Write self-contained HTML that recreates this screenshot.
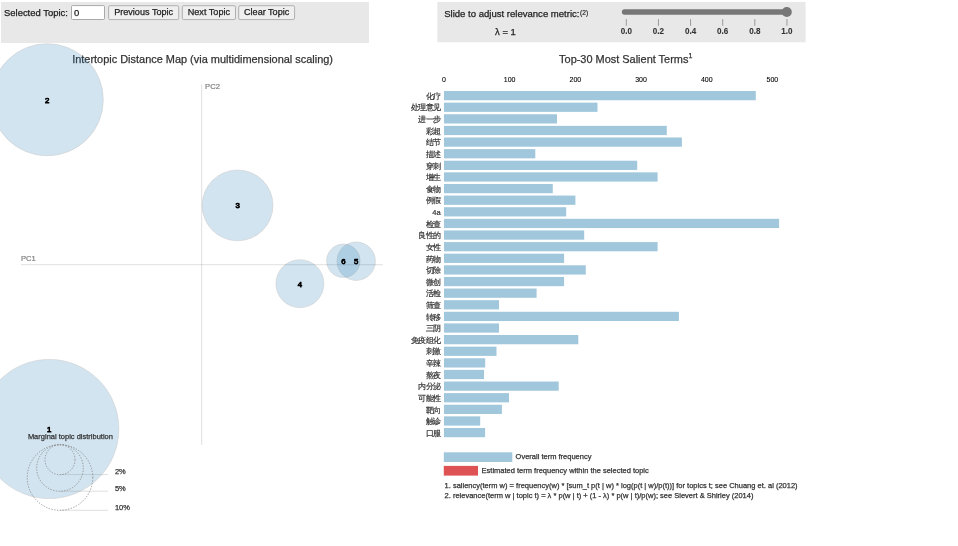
<!DOCTYPE html>
<html><head><meta charset="utf-8">
<style>
html,body{margin:0;padding:0;background:#fff;width:958px;height:546px;overflow:hidden}
svg{position:absolute;left:0;top:0;font-family:"Liberation Sans",sans-serif;filter:blur(0.45px);}
</style></head><body>
<svg width="958" height="546" viewBox="0 0 958 546">
<rect x="1" y="2" width="368" height="41" fill="#e8e8e8"/>
<text x="4.00" y="15.90" font-size="9.45" fill="#222" stroke="#222" stroke-width="0.25">Selected Topic:</text>
<rect x="71.5" y="5.6" width="33" height="13.9" rx="1" fill="#fff" stroke="#a9a9a9" stroke-width="1"/>
<text x="74.00" y="15.60" font-size="9.45" fill="#222" stroke="#222" stroke-width="0.25">0</text>
<rect x="108.6" y="5.7" width="70.1" height="13.9" rx="1.5" fill="#efefef" stroke="#b0b0b0" stroke-width="1"/>
<text x="143.65" y="15.20" font-size="9.1" fill="#222" stroke="#222" stroke-width="0.25" text-anchor="middle">Previous Topic</text>
<rect x="182.3" y="5.7" width="53.2" height="13.9" rx="1.5" fill="#efefef" stroke="#b0b0b0" stroke-width="1"/>
<text x="208.90" y="15.20" font-size="9.1" fill="#222" stroke="#222" stroke-width="0.25" text-anchor="middle">Next Topic</text>
<rect x="238.7" y="5.7" width="55.9" height="13.9" rx="1.5" fill="#efefef" stroke="#b0b0b0" stroke-width="1"/>
<text x="266.65" y="15.20" font-size="9.1" fill="#222" stroke="#222" stroke-width="0.25" text-anchor="middle">Clear Topic</text>
<rect x="437.3" y="2" width="368.3" height="40.3" fill="#e8e8e8"/>
<text x="444.20" y="17.40" font-size="9.55" fill="#222" stroke="#222" stroke-width="0.25">Slide to adjust relevance metric:<tspan font-size="6.6" dx="0.6" dy="-2.8" stroke-width="0.15">(2)</tspan></text>
<text x="495.10" y="34.90" font-size="9.45" fill="#222" stroke="#222" stroke-width="0.25">λ = 1</text>
<line x1="624.6" x2="786.8" y1="12.1" y2="12.1" stroke="#777" stroke-width="5.5" stroke-linecap="round"/>
<circle cx="786.8" cy="12" r="5" fill="#777"/>
<line x1="626.30" x2="626.30" y1="19.1" y2="25.8" stroke="#999" stroke-width="1"/>
<text x="626.30" y="33.50" font-size="8.7" fill="#333" stroke="#333" stroke-width="0.1" text-anchor="middle" font-weight="bold" textLength="11.2" lengthAdjust="spacingAndGlyphs">0.0</text>
<line x1="658.43" x2="658.43" y1="19.1" y2="25.8" stroke="#999" stroke-width="1"/>
<text x="658.43" y="33.50" font-size="8.7" fill="#333" stroke="#333" stroke-width="0.1" text-anchor="middle" font-weight="bold" textLength="11.2" lengthAdjust="spacingAndGlyphs">0.2</text>
<line x1="690.56" x2="690.56" y1="19.1" y2="25.8" stroke="#999" stroke-width="1"/>
<text x="690.56" y="33.50" font-size="8.7" fill="#333" stroke="#333" stroke-width="0.1" text-anchor="middle" font-weight="bold" textLength="11.2" lengthAdjust="spacingAndGlyphs">0.4</text>
<line x1="722.69" x2="722.69" y1="19.1" y2="25.8" stroke="#999" stroke-width="1"/>
<text x="722.69" y="33.50" font-size="8.7" fill="#333" stroke="#333" stroke-width="0.1" text-anchor="middle" font-weight="bold" textLength="11.2" lengthAdjust="spacingAndGlyphs">0.6</text>
<line x1="754.82" x2="754.82" y1="19.1" y2="25.8" stroke="#999" stroke-width="1"/>
<text x="754.82" y="33.50" font-size="8.7" fill="#333" stroke="#333" stroke-width="0.1" text-anchor="middle" font-weight="bold" textLength="11.2" lengthAdjust="spacingAndGlyphs">0.8</text>
<line x1="786.95" x2="786.95" y1="19.1" y2="25.8" stroke="#999" stroke-width="1"/>
<text x="786.95" y="33.50" font-size="8.7" fill="#333" stroke="#333" stroke-width="0.1" text-anchor="middle" font-weight="bold" textLength="11.2" lengthAdjust="spacingAndGlyphs">1.0</text>
<text x="72.20" y="62.50" font-size="10.94" fill="#333" stroke="#333" stroke-width="0.25">Intertopic Distance Map (via multidimensional scaling)</text>
<line x1="20.9" x2="382.8" y1="264.6" y2="264.6" stroke="#808080" stroke-opacity="0.2" stroke-width="1.3"/>
<line x1="201.6" x2="201.6" y1="84.2" y2="445" stroke="#808080" stroke-opacity="0.2" stroke-width="1.3"/>
<text x="20.90" y="261.40" font-size="7.6" fill="#808080" stroke="#808080" stroke-width="0.2">PC1</text>
<text x="205.00" y="88.70" font-size="7.7" fill="#808080" stroke="#808080" stroke-width="0.2">PC2</text>
<circle cx="49.25" cy="429.0" r="69.6" fill="#1f77b4" stroke="#000" stroke-width="0.55" opacity="0.2"/>
<circle cx="47.25" cy="99.75" r="56.05" fill="#1f77b4" stroke="#000" stroke-width="0.55" opacity="0.2"/>
<circle cx="237.6" cy="205.4" r="35.4" fill="#1f77b4" stroke="#000" stroke-width="0.55" opacity="0.2"/>
<circle cx="299.9" cy="283.7" r="24.0" fill="#1f77b4" stroke="#000" stroke-width="0.55" opacity="0.2"/>
<circle cx="356.2" cy="261.2" r="19.2" fill="#1f77b4" stroke="#000" stroke-width="0.55" opacity="0.2"/>
<circle cx="343.3" cy="260.8" r="16.7" fill="#1f77b4" stroke="#000" stroke-width="0.55" opacity="0.2"/>
<text x="49.25" y="431.90" font-size="7.8" fill="#000" stroke="#000" stroke-width="0.75" text-anchor="middle">1</text>
<text x="47.25" y="102.65" font-size="7.8" fill="#000" stroke="#000" stroke-width="0.75" text-anchor="middle">2</text>
<text x="237.60" y="208.30" font-size="7.8" fill="#000" stroke="#000" stroke-width="0.75" text-anchor="middle">3</text>
<text x="299.90" y="286.60" font-size="7.8" fill="#000" stroke="#000" stroke-width="0.75" text-anchor="middle">4</text>
<text x="356.20" y="264.10" font-size="7.8" fill="#000" stroke="#000" stroke-width="0.75" text-anchor="middle">5</text>
<text x="343.30" y="263.70" font-size="7.8" fill="#000" stroke="#000" stroke-width="0.75" text-anchor="middle">6</text>
<text x="70.40" y="438.50" font-size="7.5" fill="#333" stroke="#333" stroke-width="0.25" text-anchor="middle">Marginal topic distribution</text>
<circle cx="60" cy="459.7" r="15" fill="none" stroke="#888" stroke-width="0.8" stroke-dasharray="1.4 1.4"/>
<line x1="60" x2="108" y1="474.6" y2="474.6" stroke="#808080" stroke-opacity="0.25" stroke-width="1"/>
<text x="114.90" y="473.70" font-size="7.5" fill="#333" stroke="#333" stroke-width="0.25">2%</text>
<circle cx="60" cy="468.0" r="23.3" fill="none" stroke="#888" stroke-width="0.8" stroke-dasharray="1.4 1.4"/>
<line x1="60" x2="108" y1="491.2" y2="491.2" stroke="#808080" stroke-opacity="0.25" stroke-width="1"/>
<text x="114.90" y="491.30" font-size="7.5" fill="#333" stroke="#333" stroke-width="0.25">5%</text>
<circle cx="60" cy="477.5" r="32.8" fill="none" stroke="#888" stroke-width="0.8" stroke-dasharray="1.4 1.4"/>
<line x1="60" x2="108" y1="510.3" y2="510.3" stroke="#808080" stroke-opacity="0.25" stroke-width="1"/>
<text x="114.90" y="510.40" font-size="7.5" fill="#333" stroke="#333" stroke-width="0.25">10%</text>
<text x="559.10" y="62.85" font-size="10.94" fill="#333" stroke="#333" stroke-width="0.25">Top-30 Most Salient Terms<tspan font-size="7" dy="-4.7">1</tspan></text>
<text x="444.00" y="82.00" font-size="7" fill="#000" stroke="#000" stroke-width="0.1" text-anchor="middle">0</text>
<text x="509.68" y="82.00" font-size="7" fill="#000" stroke="#000" stroke-width="0.1" text-anchor="middle">100</text>
<text x="575.36" y="82.00" font-size="7" fill="#000" stroke="#000" stroke-width="0.1" text-anchor="middle">200</text>
<text x="641.04" y="82.00" font-size="7" fill="#000" stroke="#000" stroke-width="0.1" text-anchor="middle">300</text>
<text x="706.72" y="82.00" font-size="7" fill="#000" stroke="#000" stroke-width="0.1" text-anchor="middle">400</text>
<text x="772.40" y="82.00" font-size="7" fill="#000" stroke="#000" stroke-width="0.1" text-anchor="middle">500</text>
<rect x="444.0" y="91.00" width="311.80" height="9.25" fill="rgb(161,199,221)"/>
<text x="440.60" y="98.83" font-size="7.5" fill="#333" stroke="#333" stroke-width="0.2" text-anchor="end" letter-spacing="-0.55">化疗</text>
<rect x="444.0" y="102.62" width="153.50" height="9.25" fill="rgb(161,199,221)"/>
<text x="440.60" y="110.45" font-size="7.5" fill="#333" stroke="#333" stroke-width="0.2" text-anchor="end" letter-spacing="-0.55">处理意见</text>
<rect x="444.0" y="114.24" width="113.00" height="9.25" fill="rgb(161,199,221)"/>
<text x="440.60" y="122.06" font-size="7.5" fill="#333" stroke="#333" stroke-width="0.2" text-anchor="end" letter-spacing="-0.55">进一步</text>
<rect x="444.0" y="125.86" width="222.80" height="9.25" fill="rgb(161,199,221)"/>
<text x="440.60" y="133.69" font-size="7.5" fill="#333" stroke="#333" stroke-width="0.2" text-anchor="end" letter-spacing="-0.55">彩超</text>
<rect x="444.0" y="137.48" width="237.90" height="9.25" fill="rgb(161,199,221)"/>
<text x="440.60" y="145.30" font-size="7.5" fill="#333" stroke="#333" stroke-width="0.2" text-anchor="end" letter-spacing="-0.55">结节</text>
<rect x="444.0" y="149.10" width="91.30" height="9.25" fill="rgb(161,199,221)"/>
<text x="440.60" y="156.92" font-size="7.5" fill="#333" stroke="#333" stroke-width="0.2" text-anchor="end" letter-spacing="-0.55">描述</text>
<rect x="444.0" y="160.72" width="193.20" height="9.25" fill="rgb(161,199,221)"/>
<text x="440.60" y="168.54" font-size="7.5" fill="#333" stroke="#333" stroke-width="0.2" text-anchor="end" letter-spacing="-0.55">穿刺</text>
<rect x="444.0" y="172.34" width="213.60" height="9.25" fill="rgb(161,199,221)"/>
<text x="440.60" y="180.16" font-size="7.5" fill="#333" stroke="#333" stroke-width="0.2" text-anchor="end" letter-spacing="-0.55">增生</text>
<rect x="444.0" y="183.96" width="108.80" height="9.25" fill="rgb(161,199,221)"/>
<text x="440.60" y="191.78" font-size="7.5" fill="#333" stroke="#333" stroke-width="0.2" text-anchor="end" letter-spacing="-0.55">食物</text>
<rect x="444.0" y="195.58" width="131.40" height="9.25" fill="rgb(161,199,221)"/>
<text x="440.60" y="203.40" font-size="7.5" fill="#333" stroke="#333" stroke-width="0.2" text-anchor="end" letter-spacing="-0.55">例假</text>
<rect x="444.0" y="207.20" width="122.20" height="9.25" fill="rgb(161,199,221)"/>
<text x="440.80" y="214.82" font-size="7.6" fill="#333" stroke="#333" stroke-width="0.2" text-anchor="end">4a</text>
<rect x="444.0" y="218.82" width="335.10" height="9.25" fill="rgb(161,199,221)"/>
<text x="440.60" y="226.64" font-size="7.5" fill="#333" stroke="#333" stroke-width="0.2" text-anchor="end" letter-spacing="-0.55">检查</text>
<rect x="444.0" y="230.44" width="140.20" height="9.25" fill="rgb(161,199,221)"/>
<text x="440.60" y="238.26" font-size="7.5" fill="#333" stroke="#333" stroke-width="0.2" text-anchor="end" letter-spacing="-0.55">良性的</text>
<rect x="444.0" y="242.06" width="213.60" height="9.25" fill="rgb(161,199,221)"/>
<text x="440.60" y="249.88" font-size="7.5" fill="#333" stroke="#333" stroke-width="0.2" text-anchor="end" letter-spacing="-0.55">女性</text>
<rect x="444.0" y="253.68" width="120.10" height="9.25" fill="rgb(161,199,221)"/>
<text x="440.60" y="261.50" font-size="7.5" fill="#333" stroke="#333" stroke-width="0.2" text-anchor="end" letter-spacing="-0.55">药物</text>
<rect x="444.0" y="265.30" width="141.80" height="9.25" fill="rgb(161,199,221)"/>
<text x="440.60" y="273.12" font-size="7.5" fill="#333" stroke="#333" stroke-width="0.2" text-anchor="end" letter-spacing="-0.55">切除</text>
<rect x="444.0" y="276.92" width="120.10" height="9.25" fill="rgb(161,199,221)"/>
<text x="440.60" y="284.74" font-size="7.5" fill="#333" stroke="#333" stroke-width="0.2" text-anchor="end" letter-spacing="-0.55">微创</text>
<rect x="444.0" y="288.54" width="92.60" height="9.25" fill="rgb(161,199,221)"/>
<text x="440.60" y="296.36" font-size="7.5" fill="#333" stroke="#333" stroke-width="0.2" text-anchor="end" letter-spacing="-0.55">活检</text>
<rect x="444.0" y="300.16" width="55.00" height="9.25" fill="rgb(161,199,221)"/>
<text x="440.60" y="307.98" font-size="7.5" fill="#333" stroke="#333" stroke-width="0.2" text-anchor="end" letter-spacing="-0.55">筛查</text>
<rect x="444.0" y="311.78" width="234.90" height="9.25" fill="rgb(161,199,221)"/>
<text x="440.60" y="319.60" font-size="7.5" fill="#333" stroke="#333" stroke-width="0.2" text-anchor="end" letter-spacing="-0.55">转移</text>
<rect x="444.0" y="323.40" width="55.00" height="9.25" fill="rgb(161,199,221)"/>
<text x="440.60" y="331.22" font-size="7.5" fill="#333" stroke="#333" stroke-width="0.2" text-anchor="end" letter-spacing="-0.55">三阴</text>
<rect x="444.0" y="335.02" width="134.30" height="9.25" fill="rgb(161,199,221)"/>
<text x="440.60" y="342.84" font-size="7.5" fill="#333" stroke="#333" stroke-width="0.2" text-anchor="end" letter-spacing="-0.55">免疫组化</text>
<rect x="444.0" y="346.64" width="52.50" height="9.25" fill="rgb(161,199,221)"/>
<text x="440.60" y="354.46" font-size="7.5" fill="#333" stroke="#333" stroke-width="0.2" text-anchor="end" letter-spacing="-0.55">刺激</text>
<rect x="444.0" y="358.26" width="41.20" height="9.25" fill="rgb(161,199,221)"/>
<text x="440.60" y="366.08" font-size="7.5" fill="#333" stroke="#333" stroke-width="0.2" text-anchor="end" letter-spacing="-0.55">辛辣</text>
<rect x="444.0" y="369.88" width="40.00" height="9.25" fill="rgb(161,199,221)"/>
<text x="440.60" y="377.70" font-size="7.5" fill="#333" stroke="#333" stroke-width="0.2" text-anchor="end" letter-spacing="-0.55">熬夜</text>
<rect x="444.0" y="381.50" width="114.70" height="9.25" fill="rgb(161,199,221)"/>
<text x="440.60" y="389.32" font-size="7.5" fill="#333" stroke="#333" stroke-width="0.2" text-anchor="end" letter-spacing="-0.55">内分泌</text>
<rect x="444.0" y="393.12" width="65.00" height="9.25" fill="rgb(161,199,221)"/>
<text x="440.60" y="400.94" font-size="7.5" fill="#333" stroke="#333" stroke-width="0.2" text-anchor="end" letter-spacing="-0.55">可能性</text>
<rect x="444.0" y="404.74" width="57.90" height="9.25" fill="rgb(161,199,221)"/>
<text x="440.60" y="412.56" font-size="7.5" fill="#333" stroke="#333" stroke-width="0.2" text-anchor="end" letter-spacing="-0.55">靶向</text>
<rect x="444.0" y="416.36" width="36.20" height="9.25" fill="rgb(161,199,221)"/>
<text x="440.60" y="424.18" font-size="7.5" fill="#333" stroke="#333" stroke-width="0.2" text-anchor="end" letter-spacing="-0.55">触诊</text>
<rect x="444.0" y="427.98" width="41.10" height="9.25" fill="rgb(161,199,221)"/>
<text x="440.60" y="435.80" font-size="7.5" fill="#333" stroke="#333" stroke-width="0.2" text-anchor="end" letter-spacing="-0.55">口服</text>
<rect x="443.8" y="452.3" width="68.5" height="9.7" fill="rgb(161,199,221)"/>
<rect x="443.8" y="465.9" width="34.2" height="9.7" fill="#d62728" fill-opacity="0.8"/>
<text x="515.60" y="459.30" font-size="7.5" fill="#333" stroke="#333" stroke-width="0.25">Overall term frequency</text>
<text x="481.60" y="473.40" font-size="7.5" fill="#333" stroke="#333" stroke-width="0.25">Estimated term frequency within the selected topic</text>
<text x="444.60" y="488.40" font-size="7.5" fill="#333" stroke="#333" stroke-width="0.25">1. saliency(term w) = frequency(w) * [sum_t p(t | w) * log(p(t | w)/p(t))] for topics t; see Chuang et. al (2012)</text>
<text x="444.60" y="498.10" font-size="7.5" fill="#333" stroke="#333" stroke-width="0.25">2. relevance(term w | topic t) = λ * p(w | t) + (1 - λ) * p(w | t)/p(w); see Sievert &amp; Shirley (2014)</text>
</svg>
</body></html>
